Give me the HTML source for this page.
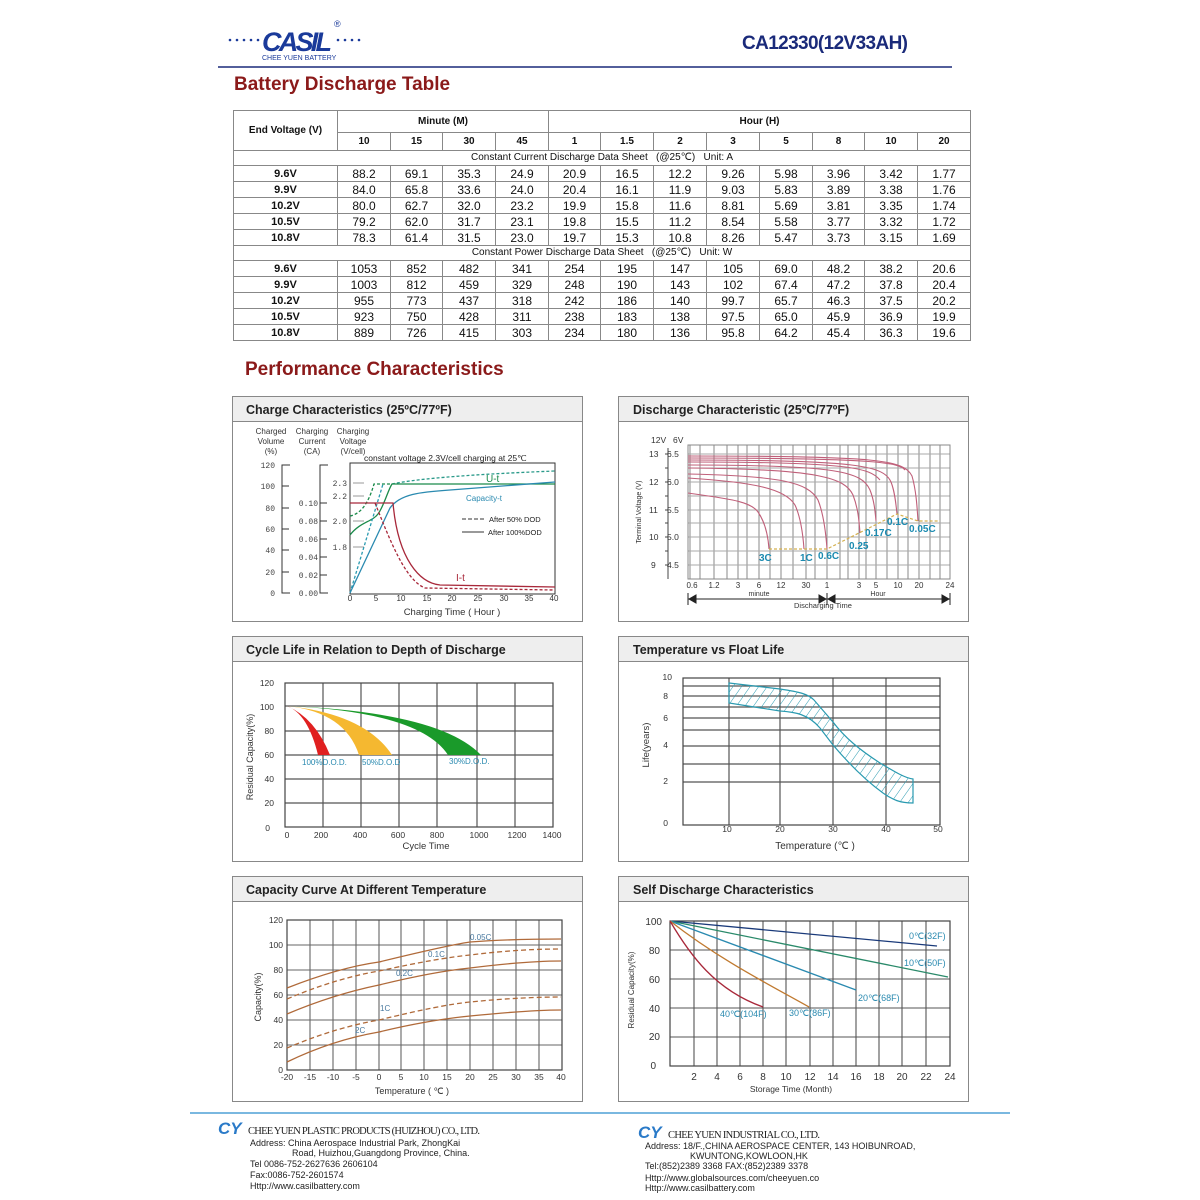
<!DOCTYPE html>
<html><head><meta charset="utf-8"><style>
body{margin:0;background:#fff;}
#w{position:relative;width:1200px;height:1200px;overflow:hidden;font-family:"Liberation Sans",sans-serif;}
svg{position:absolute;left:0;top:0;}
table{position:absolute;left:233px;top:110px;border-collapse:collapse;table-layout:fixed;width:738px;font-size:12px;color:#111;}
td{border:1px solid #888;text-align:center;padding:0;height:15px;line-height:14px;}
td.v{font-weight:bold;font-size:11px;}
tr.s td{font-size:10px;height:14px;}
tr.h td{font-size:10px;font-weight:bold;}
</style></head><body><div id="w">
<svg width="1200" height="1200" viewBox="0 0 1200 1200" font-family="Liberation Sans, sans-serif">
<defs>
<pattern id="hat" width="7" height="7" patternUnits="userSpaceOnUse" patternTransform="rotate(35)"><line x1="0" y1="0" x2="0" y2="7" stroke="#2a9ab0" stroke-width="1"/></pattern>
</defs>
<!-- header -->
<g fill="#1a3a9a"><circle cx="230" cy="40" r="1.3"/><circle cx="237" cy="40" r="1.3"/><circle cx="244" cy="40" r="1.3"/><circle cx="251" cy="40" r="1.3"/><circle cx="258" cy="40" r="1.3"/><circle cx="338" cy="40" r="1.3"/><circle cx="345" cy="40" r="1.3"/><circle cx="352" cy="40" r="1.3"/><circle cx="359" cy="40" r="1.3"/></g>
<text x="262" y="51" font-size="27" font-weight="bold" font-style="italic" fill="#1a3a9a" textLength="70">CASIL</text>
<text x="334" y="27" font-size="9" fill="#1a3a9a">®</text>
<text x="262" y="60" font-size="7" fill="#1a3a9a">CHEE YUEN BATTERY</text>
<text x="742" y="49" font-size="19" font-weight="bold" fill="#1a2a7a" textLength="166">CA12330(12V33AH)</text>
<line x1="218" y1="67" x2="952" y2="67" stroke="#1a2a7a" stroke-width="1.5"/>
<text x="234" y="90" font-size="19" font-weight="bold" fill="#8b1a1a">Battery Discharge Table</text>
<text x="245" y="375" font-size="19" font-weight="bold" fill="#8b1a1a">Performance Characteristics</text>

<!-- panels -->
<g stroke="#888" fill="none">
<rect x="232.5" y="396.5" width="350" height="225"/><rect x="618.5" y="396.5" width="350" height="225"/>
<rect x="232.5" y="636.5" width="350" height="225"/><rect x="618.5" y="636.5" width="350" height="225"/>
<rect x="232.5" y="876.5" width="350" height="225"/><rect x="618.5" y="876.5" width="350" height="225"/>
</g>
<g fill="#eee" stroke="#888"><rect x="232.5" y="396.5" width="350" height="25"/><rect x="618.5" y="396.5" width="350" height="25"/>
<rect x="232.5" y="636.5" width="350" height="25"/><rect x="618.5" y="636.5" width="350" height="25"/>
<rect x="232.5" y="876.5" width="350" height="25"/><rect x="618.5" y="876.5" width="350" height="25"/></g>
<g font-size="12.5" font-weight="bold" fill="#222">
<text x="246" y="414">Charge Characteristics (25ºC/77ºF)</text>
<text x="633" y="414">Discharge Characteristic (25ºC/77ºF)</text>
<text x="246" y="654">Cycle Life in Relation to Depth of Discharge</text>
<text x="633" y="654">Temperature vs Float Life</text>
<text x="246" y="894">Capacity Curve At Different Temperature</text>
<text x="633" y="894">Self Discharge Characteristics</text>
</g>

<!-- Charge chart -->
<g font-size="8" fill="#333" text-anchor="middle">
<text x="271" y="434">Charged</text><text x="271" y="444">Volume</text><text x="271" y="454">(%)</text>
<text x="312" y="434">Charging</text><text x="312" y="444">Current</text><text x="312" y="454">(CA)</text>
<text x="353" y="434">Charging</text><text x="353" y="444">Voltage</text><text x="353" y="454">(V/cell)</text>
</g>
<g stroke="#333" fill="none">
<path d="M290,465 H282 V593 H290 M282,486 h7 M282,508 h7 M282,529 h7 M282,550 h7 M282,572 h7"/>
<path d="M328,465 H320 V593 H328 M320,503 h7 M320,521 h7 M320,539 h7 M320,557 h7 M320,575 h7"/>
<rect x="350" y="463" width="205" height="131"/>
</g>
<g stroke="#999"><line x1="353" y1="483" x2="364" y2="483"/><line x1="353" y1="496" x2="364" y2="496"/><line x1="353" y1="521" x2="364" y2="521"/><line x1="353" y1="547" x2="364" y2="547"/></g>
<g font-size="8" fill="#444" font-family="Liberation Mono, monospace" text-anchor="end">
<text x="275" y="468">120</text><text x="275" y="489">100</text><text x="275" y="511">80</text><text x="275" y="532">60</text><text x="275" y="553">40</text><text x="275" y="575">20</text><text x="275" y="596">0</text>
<text x="318" y="506">0.10</text><text x="318" y="524">0.08</text><text x="318" y="542">0.06</text><text x="318" y="560">0.04</text><text x="318" y="578">0.02</text><text x="318" y="596">0.00</text>
<text x="347" y="486">2.3</text><text x="347" y="499">2.2</text><text x="347" y="524">2.0</text><text x="347" y="550">1.8</text>
</g>
<text x="364" y="461" font-size="8.5" fill="#222">constant voltage 2.3V/cell charging at 25℃</text>
<g fill="none" stroke-width="1.3">
<path d="M392,484 C420,478 480,474 555,471" stroke="#2a9a8a" stroke-dasharray="3,2"/>
<path d="M350,516 C360,514 368,505 374,484 L392,484" stroke="#1a8a4a" stroke-dasharray="3,2"/>
<path d="M350,535 C360,522 372,522 378,514 C384,506 388,490 392,484 L555,484" stroke="#1a8a4a"/>
<path d="M350,593 L383,484" stroke="#2a9ab0" stroke-dasharray="3,2"/>
<path d="M350,593 L390,508 C400,494 420,492 450,490 C490,487 530,484 555,482" stroke="#2a8ab0"/>
<path d="M350,503 L393,503 C398,560 420,583 440,585 L555,587" stroke="#a8283a"/>
<path d="M375,503 C390,540 405,580 425,588 L555,590" stroke="#a8283a" stroke-dasharray="3,2"/>
<path d="M462,519 h22" stroke="#333" stroke-dasharray="4,2" stroke-width="1"/>
<path d="M462,532 h22" stroke="#333" stroke-width="1"/>
</g>
<text x="486" y="482" font-size="10" fill="#1a8a4a">U-t</text>
<text x="466" y="501" font-size="8" fill="#2a8ab0">Capacity-t</text>
<text x="456" y="581" font-size="10" fill="#a8283a">I-t</text>
<text x="489" y="522" font-size="7.5" fill="#222">After 50% DOD</text>
<text x="488" y="535" font-size="7.5" fill="#222">After 100%DOD</text>
<g font-size="8" fill="#333" text-anchor="middle">
<text x="350" y="601">0</text><text x="376" y="601">5</text><text x="401" y="601">10</text><text x="427" y="601">15</text><text x="452" y="601">20</text><text x="478" y="601">25</text><text x="504" y="601">30</text><text x="529" y="601">35</text><text x="554" y="601">40</text>
<text x="452" y="615" font-size="9.5">Charging  Time ( Hour  )</text>
</g>

<!-- Discharge chart -->
<g stroke="#888" stroke-width="1">
<path d="M690,445V579M700,445V579M714,445V579M727,445V579M738,445V579M747,445V579M759,445V579M770,445V579M781,445V579M793,445V579M806,445V579M815,445V579M827,445V579M840,445V579M848,445V579M859,445V579M866,445V579M876,445V579M887,445V579M898,445V579M908,445V579M919,445V579M930,445V579M940,445V579"/>
</g>
<g stroke="#aaa"><path d="M688,454H950M688,468H950M688,482H950M688,496H950M688,510H950M688,523H950M688,537H950M688,551H950M688,565H950"/></g>
<rect x="688" y="445" width="262" height="134" fill="none" stroke="#888"/>
<path d="M668,448V579M668,454h-3M668,468h-3M668,482h-3M668,496h-3M668,510h-3M668,523h-3M668,537h-3M668,551h-3M668,565h-3" stroke="#444" fill="none"/>
<g font-size="8.5" fill="#333"><text x="651" y="443">12V</text><text x="673" y="443">6V</text>
<text x="649" y="457">13</text><text x="649" y="485">12</text><text x="649" y="513">11</text><text x="649" y="540">10</text><text x="651" y="568">9</text>
<text x="667" y="457">6.5</text><text x="667" y="485">6.0</text><text x="667" y="513">5.5</text><text x="667" y="540">5.0</text><text x="667" y="568">4.5</text></g>
<text transform="translate(641,512) rotate(-90)" font-size="7" text-anchor="middle" fill="#333">Terminal Voltage (V)</text>
<g fill="none" stroke="#c0607a" stroke-width="1.1">
<path d="M688,493 C720,498 750,500 758,512 C765,522 768,535 769,549"/>
<path d="M688,478 C750,482 785,488 795,505 C801,518 803,535 804,549"/>
<path d="M688,474 C780,476 808,482 818,500 C824,515 826,535 827,549"/>
<path d="M688,468 C820,469 845,478 853,495 C858,508 859,520 860,533"/>
<path d="M688,465 C840,465 862,472 870,490 C874,500 875,510 876,521"/>
<path d="M688,460 C860,460 884,466 891,482 C895,492 896,505 897,514"/>
<path d="M688,456 C880,456 904,460 912,476 C916,490 917,505 918,521"/>
<path d="M688,458 C880,458 900,463 905,470"/>
<path d="M688,462 C850,462 870,468 880,480"/>
</g>
<path d="M769,549 L827,549 L897,514 L918,521 L940,521" fill="none" stroke="#d4b050" stroke-dasharray="3,2" stroke-width="1.2"/>
<g font-size="10" fill="#1a8ab0" font-weight="bold">
<text x="759" y="561">3C</text><text x="800" y="561">1C</text><text x="818" y="559">0.6C</text><text x="849" y="549">0.25</text><text x="865" y="536">0.17C</text><text x="887" y="525">0.1C</text><text x="909" y="532">0.05C</text></g>
<g font-size="8" fill="#333" text-anchor="middle">
<text x="692" y="588">0.6</text><text x="714" y="588">1.2</text><text x="738" y="588">3</text><text x="759" y="588">6</text><text x="781" y="588">12</text><text x="806" y="588">30</text><text x="827" y="588">1</text><text x="859" y="588">3</text><text x="876" y="588">5</text><text x="898" y="588">10</text><text x="919" y="588">20</text><text x="950" y="588">24</text>
<text x="759" y="596" font-size="7">minute</text><text x="878" y="596" font-size="7">Hour</text>
<text x="823" y="608" font-size="7.5">Discharging Time</text></g>
<g stroke="#222" fill="#222"><line x1="688" y1="599" x2="950" y2="599"/><line x1="688" y1="593" x2="688" y2="605"/><line x1="827" y1="593" x2="827" y2="605"/><line x1="950" y1="593" x2="950" y2="605"/>
<path d="M689,599l7,-4v8z M826,599l-7,-4v8z M828,599l7,-4v8z M949,599l-7,-4v8z"/></g>

<!-- Cycle life -->
<g stroke="#555" stroke-width="1.2"><path d="M323,683V827M361,683V827M399,683V827M437,683V827M477,683V827M515,683V827"/>
<path d="M285,706H553M285,731H553M285,755H553M285,779H553M285,803H553"/></g>
<rect x="285" y="683" width="268" height="144" fill="none" stroke="#444" stroke-width="1.2"/>
<path d="M287,706 Q420,712 448,755 L481,755 Q440,712 287,706Z" fill="#1a9a2a"/>
<path d="M287,706 Q345,712 359,755 L392,755 Q365,714 287,706Z" fill="#f5b830"/>
<path d="M287,706 Q308,714 318,755 L330,755 Q315,718 287,706Z" fill="#e02020"/>
<g font-size="8.5" fill="#333" text-anchor="end"><text x="274" y="686">120</text><text x="274" y="710">100</text><text x="274" y="734">80</text><text x="274" y="758">60</text><text x="274" y="782">40</text><text x="274" y="806">20</text><text x="270" y="831">0</text></g>
<g font-size="8.5" fill="#333" text-anchor="middle"><text x="287" y="838">0</text><text x="321" y="838">200</text><text x="360" y="838">400</text><text x="398" y="838">600</text><text x="437" y="838">800</text><text x="479" y="838">1000</text><text x="517" y="838">1200</text><text x="552" y="838">1400</text>
<text x="426" y="849" font-size="9.5">Cycle Time</text></g>
<text transform="translate(253,757) rotate(-90)" font-size="9" text-anchor="middle" fill="#333">Residual Capacity(%)</text>
<g font-size="8" fill="#2a8ab0"><text x="302" y="765">100%D.O.D.</text><text x="362" y="765">50%D.O.D</text><text x="449" y="764">30%D.O.D.</text></g>

<!-- Temp vs float -->
<g stroke="#555" stroke-width="1.2"><path d="M729,678V825M780,678V825M833,678V825M886,678V825"/>
<path d="M683,686H940M683,696H940M683,707H940M683,718H940M683,730H940M683,746H940M683,764H940M683,782H940"/></g>
<rect x="683" y="678" width="257" height="147" fill="none" stroke="#444" stroke-width="1.2"/>
<path d="M729,683 L780,689 C800,692 808,694 814,700 L833,722 C845,738 860,750 880,763 C895,772 905,778 913,779 L913,803 C900,803 893,800 883,793 C865,780 850,765 833,745 L820,728 C808,714 795,712 780,711 L729,703Z" fill="url(#hat)" stroke="#2a9ab0" stroke-width="1.2"/>
<g font-size="8.5" fill="#333" text-anchor="end"><text x="672" y="680">10</text><text x="668" y="699">8</text><text x="668" y="721">6</text><text x="668" y="748">4</text><text x="668" y="784">2</text><text x="668" y="826">0</text></g>
<g font-size="8.5" fill="#333" text-anchor="middle"><text x="727" y="832">10</text><text x="780" y="832">20</text><text x="833" y="832">30</text><text x="886" y="832">40</text><text x="938" y="832">50</text>
<text x="815" y="849" font-size="10">Temperature (℃ )</text></g>
<text transform="translate(649,745) rotate(-90)" font-size="9.5" text-anchor="middle" fill="#333">Life(years)</text>

<!-- Capacity vs temperature -->
<g stroke="#666" stroke-width="1.1"><path d="M310,920V1070M333,920V1070M356,920V1070M379,920V1070M401,920V1070M424,920V1070M447,920V1070M470,920V1070M493,920V1070M516,920V1070M539,920V1070"/>
<path d="M287,945H562M287,970H562M287,995H562M287,1020H562M287,1045H562"/></g>
<rect x="287" y="920" width="275" height="150" fill="none" stroke="#444" stroke-width="1.2"/>
<g fill="none" stroke="#b06a3a" stroke-width="1.3">
<path d="M287,988 C320,975 350,966 379,962 C420,952 450,945 470,942 C510,939 540,939 561,939"/>
<path d="M287,999 C320,985 350,976 379,971 C420,962 450,957 470,955 C510,950 540,949 561,949" stroke-dasharray="5,3"/>
<path d="M287,1014 C320,1000 350,991 379,985 C420,975 450,970 470,968 C510,963 540,961 561,961"/>
<path d="M287,1048 C320,1034 350,1025 379,1020 C420,1010 450,1004 470,1002 C510,998 540,997 561,997" stroke-dasharray="5,3"/>
<path d="M287,1062 C320,1046 350,1037 379,1032 C420,1022 450,1018 470,1016 C510,1012 540,1010 561,1010"/>
</g>
<g font-size="8" fill="#4a7aa0"><text x="470" y="940">0.05C</text><text x="428" y="957">0.1C</text><text x="396" y="976">0.2C</text><text x="380" y="1011">1C</text><text x="355" y="1033">2C</text></g>
<g font-size="8.5" fill="#333" text-anchor="end"><text x="283" y="923">120</text><text x="283" y="948">100</text><text x="283" y="973">80</text><text x="283" y="998">60</text><text x="283" y="1023">40</text><text x="283" y="1048">20</text><text x="283" y="1073">0</text></g>
<g font-size="8.5" fill="#333" text-anchor="middle"><text x="287" y="1080">-20</text><text x="310" y="1080">-15</text><text x="333" y="1080">-10</text><text x="356" y="1080">-5</text><text x="379" y="1080">0</text><text x="401" y="1080">5</text><text x="424" y="1080">10</text><text x="447" y="1080">15</text><text x="470" y="1080">20</text><text x="493" y="1080">25</text><text x="516" y="1080">30</text><text x="539" y="1080">35</text><text x="561" y="1080">40</text>
<text x="412" y="1094" font-size="9">Temperature ( ℃ )</text></g>
<text transform="translate(261,997) rotate(-90)" font-size="9" text-anchor="middle" fill="#333">Capacity(%)</text>

<!-- Self discharge -->
<g stroke="#555" stroke-width="1.1"><path d="M694,921V1066M717,921V1066M740,921V1066M763,921V1066M786,921V1066M810,921V1066M833,921V1066M856,921V1066M879,921V1066M902,921V1066M926,921V1066"/>
<path d="M670,950H950M670,979H950M670,1008H950M670,1037H950"/></g>
<rect x="670" y="921" width="280" height="145" fill="none" stroke="#444" stroke-width="1.2"/>
<g fill="none" stroke-width="1.3">
<path d="M670,921 L937,946" stroke="#1a3a7a"/>
<path d="M670,921 L948,977" stroke="#2a8a6a"/>
<path d="M670,921 L856,990" stroke="#2a8ab0"/>
<path d="M670,921 C720,960 770,985 809,1007" stroke="#c07a30"/>
<path d="M670,921 C690,955 715,990 763,1007" stroke="#a8283a"/>
</g>
<g font-size="9" fill="#2a8ab0"><text x="909" y="939">0℃(32F)</text><text x="904" y="966">10℃(50F)</text><text x="858" y="1001">20℃(68F)</text><text x="789" y="1016">30℃(86F)</text><text x="720" y="1017">40℃(104F)</text></g>
<g font-size="10" fill="#333" text-anchor="end"><text x="662" y="925">100</text><text x="660" y="954">80</text><text x="660" y="983">60</text><text x="660" y="1012">40</text><text x="660" y="1040">20</text><text x="656" y="1069">0</text></g>
<g font-size="10" fill="#333" text-anchor="middle"><text x="694" y="1080">2</text><text x="717" y="1080">4</text><text x="740" y="1080">6</text><text x="763" y="1080">8</text><text x="786" y="1080">10</text><text x="810" y="1080">12</text><text x="833" y="1080">14</text><text x="856" y="1080">16</text><text x="879" y="1080">18</text><text x="902" y="1080">20</text><text x="926" y="1080">22</text><text x="950" y="1080">24</text>
<text x="791" y="1092" font-size="8.5">Storage Time (Month)</text></g>
<text transform="translate(634,990) rotate(-90)" font-size="8" text-anchor="middle" fill="#333">Residual Capacity(%)</text>

<!-- footer -->
<line x1="190" y1="1113" x2="1010" y2="1113" stroke="#7ab8e0" stroke-width="2"/>
<text x="218" y="1134" font-size="17" font-weight="bold" font-style="italic" fill="#2a7ac8">CY</text>
<text x="638" y="1138" font-size="17" font-weight="bold" font-style="italic" fill="#2a7ac8">CY</text>
<g font-family="Liberation Serif, serif" font-size="10.5" fill="#222"><text x="248" y="1134" textLength="232">CHEE YUEN PLASTIC PRODUCTS (HUIZHOU) CO., LTD.</text>
<text x="668" y="1138" textLength="152">CHEE YUEN INDUSTRIAL CO., LTD.</text></g>
<g font-size="9" fill="#222">
<text x="250" y="1146">Address: China Aerospace Industrial Park, ZhongKai</text>
<text x="292" y="1156">Road, Huizhou,Guangdong Province, China.</text>
<text x="250" y="1167">Tel 0086-752-2627636   2606104</text>
<text x="250" y="1178">Fax:0086-752-2601574</text>
<text x="250" y="1189">Http://www.casilbattery.com</text>
<text x="645" y="1149">Address: 18/F.,CHINA AEROSPACE CENTER, 143 HOIBUNROAD,</text>
<text x="690" y="1159">KWUNTONG,KOWLOON,HK</text>
<text x="645" y="1169">Tel:(852)2389 3368    FAX:(852)2389 3378</text>
<text x="645" y="1181">Http://www.globalsources.com/cheeyuen.co</text>
<text x="645" y="1191">Http://www.casilbattery.com</text>
</g>
</svg>

<table>
<colgroup><col style="width:104px"><col style="width:53px"><col style="width:52px"><col style="width:53px"><col style="width:53px"><col style="width:52px"><col style="width:53px"><col style="width:53px"><col style="width:53px"><col style="width:53px"><col style="width:52px"><col style="width:53px"><col style="width:53px"></colgroup>
<tr class="h"><td rowspan="2" class="v" style="height:38px">End Voltage (V)</td><td colspan="4" style="height:21px">Minute (M)</td><td colspan="8">Hour (H)</td></tr>
<tr class="h"><td style="height:17px">10</td><td>15</td><td>30</td><td>45</td><td>1</td><td>1.5</td><td>2</td><td>3</td><td>5</td><td>8</td><td>10</td><td>20</td></tr>
<tr class="s"><td colspan="13">Constant Current Discharge Data Sheet &nbsp; (@25℃) &nbsp; Unit: A</td></tr>
<tr><td class="v">9.6V</td><td>88.2</td><td>69.1</td><td>35.3</td><td>24.9</td><td>20.9</td><td>16.5</td><td>12.2</td><td>9.26</td><td>5.98</td><td>3.96</td><td>3.42</td><td>1.77</td></tr>
<tr><td class="v">9.9V</td><td>84.0</td><td>65.8</td><td>33.6</td><td>24.0</td><td>20.4</td><td>16.1</td><td>11.9</td><td>9.03</td><td>5.83</td><td>3.89</td><td>3.38</td><td>1.76</td></tr>
<tr><td class="v">10.2V</td><td>80.0</td><td>62.7</td><td>32.0</td><td>23.2</td><td>19.9</td><td>15.8</td><td>11.6</td><td>8.81</td><td>5.69</td><td>3.81</td><td>3.35</td><td>1.74</td></tr>
<tr><td class="v">10.5V</td><td>79.2</td><td>62.0</td><td>31.7</td><td>23.1</td><td>19.8</td><td>15.5</td><td>11.2</td><td>8.54</td><td>5.58</td><td>3.77</td><td>3.32</td><td>1.72</td></tr>
<tr><td class="v">10.8V</td><td>78.3</td><td>61.4</td><td>31.5</td><td>23.0</td><td>19.7</td><td>15.3</td><td>10.8</td><td>8.26</td><td>5.47</td><td>3.73</td><td>3.15</td><td>1.69</td></tr>
<tr class="s"><td colspan="13">Constant Power Discharge Data Sheet &nbsp; (@25℃) &nbsp; Unit: W</td></tr>
<tr><td class="v">9.6V</td><td>1053</td><td>852</td><td>482</td><td>341</td><td>254</td><td>195</td><td>147</td><td>105</td><td>69.0</td><td>48.2</td><td>38.2</td><td>20.6</td></tr>
<tr><td class="v">9.9V</td><td>1003</td><td>812</td><td>459</td><td>329</td><td>248</td><td>190</td><td>143</td><td>102</td><td>67.4</td><td>47.2</td><td>37.8</td><td>20.4</td></tr>
<tr><td class="v">10.2V</td><td>955</td><td>773</td><td>437</td><td>318</td><td>242</td><td>186</td><td>140</td><td>99.7</td><td>65.7</td><td>46.3</td><td>37.5</td><td>20.2</td></tr>
<tr><td class="v">10.5V</td><td>923</td><td>750</td><td>428</td><td>311</td><td>238</td><td>183</td><td>138</td><td>97.5</td><td>65.0</td><td>45.9</td><td>36.9</td><td>19.9</td></tr>
<tr><td class="v">10.8V</td><td>889</td><td>726</td><td>415</td><td>303</td><td>234</td><td>180</td><td>136</td><td>95.8</td><td>64.2</td><td>45.4</td><td>36.3</td><td>19.6</td></tr>
</table>
</div></body></html>
